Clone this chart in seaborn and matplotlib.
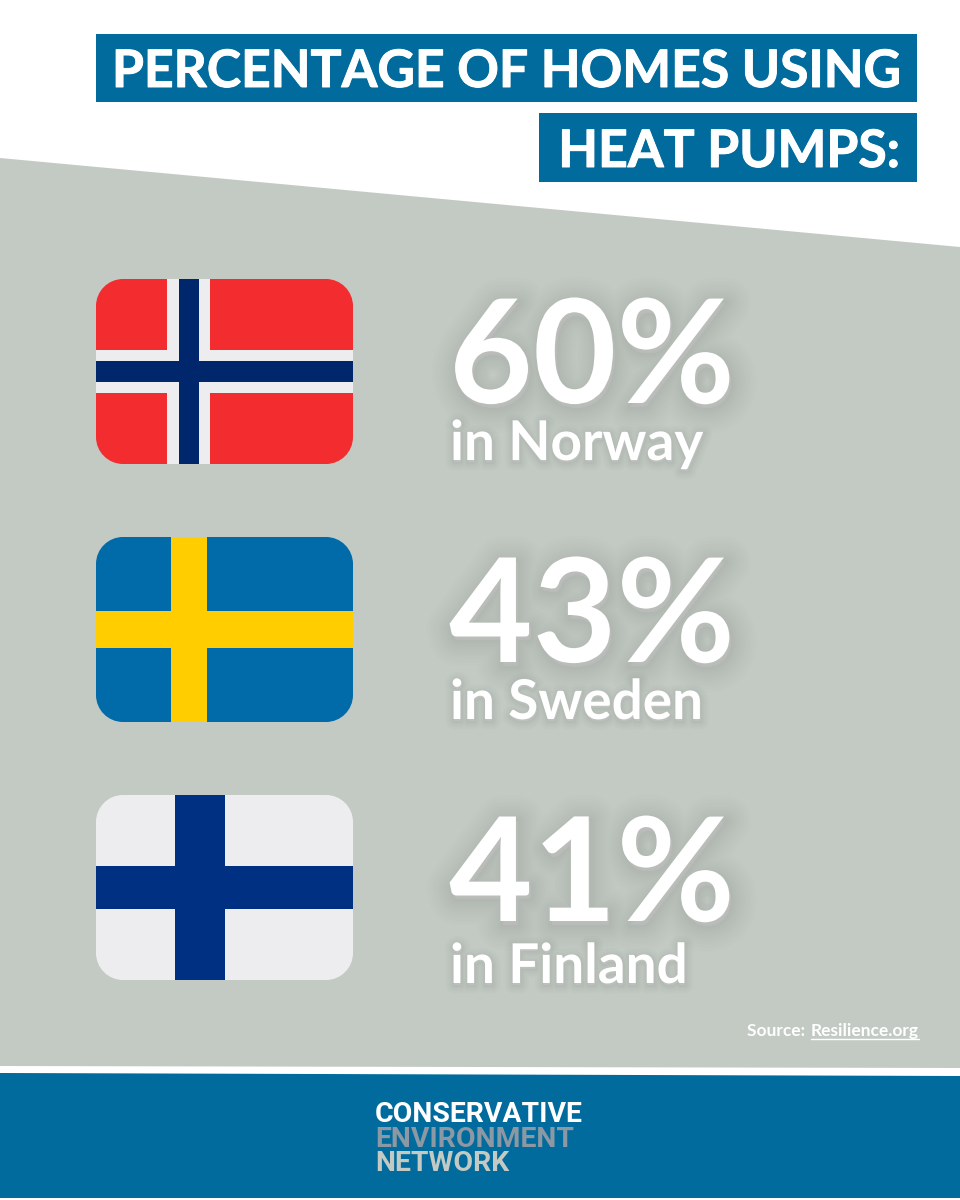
import matplotlib
matplotlib.use("Agg")
import matplotlib.pyplot as plt
import matplotlib.patheffects as pe
from matplotlib.patches import PathPatch, Polygon, Rectangle
from matplotlib.path import Path
import seaborn as sns

countries = ["Norway", "Sweden", "Finland"]
percentages = [60, 43, 41]
title_lines = ["PERCENTAGE OF HOMES USING", "HEAT PUMPS:"]
logo_lines = ["CONSERVATIVE", "ENVIRONMENT", "NETWORK"]

BLUE = "#006B9C"
GREY = "#C3CAC4"

sns.set_theme(style="white")
plt.rcParams["font.family"] = ["Lato", "DejaVu Sans"]

fig = plt.figure(figsize=(9.6, 12), dpi=100, facecolor="white")
ax = fig.add_axes([0, 0, 1, 1])
ax.set_xlim(0, 960)
ax.set_ylim(1200, 0)
ax.axis("off")

# background shapes
ax.add_patch(Polygon([(0, 158), (960, 247), (960, 1068), (0, 1066)], fc=GREY, ec="none"))
ax.add_patch(Polygon([(0, 1073), (960, 1076), (960, 1198), (0, 1198)], fc=BLUE, ec="none"))

# title
title_fx = [pe.withStroke(linewidth=0.7, foreground="white")]
ax.add_patch(Rectangle((96, 34), 821, 68, fc=BLUE, ec="none"))
ax.add_patch(Rectangle((539, 113), 378, 69, fc=BLUE, ec="none"))
ax.text(506, 68, title_lines[0], color="white", fontsize=37.2, fontweight="bold", ha="center",
        va="center_baseline", path_effects=title_fx)
ax.text(729, 148, title_lines[1], color="white", fontsize=37.2, fontweight="bold", ha="center",
        va="center_baseline", path_effects=title_fx)


def rounded(x0, y0, w, h, r):
    k = r * 0.4477
    x1, y1 = x0 + w, y0 + h
    verts = [(x0 + r, y0), (x1 - r, y0),
             (x1 - k, y0), (x1, y0 + k), (x1, y0 + r), (x1, y1 - r),
             (x1, y1 - k), (x1 - k, y1), (x1 - r, y1), (x0 + r, y1),
             (x0 + k, y1), (x0, y1 - k), (x0, y1 - r), (x0, y0 + r),
             (x0, y0 + k), (x0 + k, y0), (x0 + r, y0), (x0 + r, y0)]
    codes = [Path.MOVETO, Path.LINETO,
             Path.CURVE4, Path.CURVE4, Path.CURVE4, Path.LINETO,
             Path.CURVE4, Path.CURVE4, Path.CURVE4, Path.LINETO,
             Path.CURVE4, Path.CURVE4, Path.CURVE4, Path.LINETO,
             Path.CURVE4, Path.CURVE4, Path.CURVE4, Path.CLOSEPOLY]
    return Path(verts, codes)


def flag(top, field, vspans, hspans):
    box = PathPatch(rounded(96, top, 257, 185, 27), fc=field, ec="none")
    ax.add_patch(box)
    for (y0, y1, c) in hspans:
        r = Rectangle((96, top + y0), 257, y1 - y0, fc=c, ec="none")
        ax.add_patch(r)
        r.set_clip_path(box)
    for (x0, x1, c) in vspans:
        r = Rectangle((x0, top), x1 - x0, 185, fc=c, ec="none")
        ax.add_patch(r)
        r.set_clip_path(box)


WHITE_F = "#EDEDEF"
NAVY = "#00266B"
# Norway: white cross first, then navy cross on top
flag(279, "#F32D2F",
     [(167, 210, WHITE_F)],
     [(71, 114, WHITE_F)])
for rect in [Rectangle((96, 361), 257, 21, fc=NAVY, ec="none"),
             Rectangle((179, 279), 20, 185, fc=NAVY, ec="none")]:
    ax.add_patch(rect)
flag(537, "#006BA8", [(171, 207, "#FFCD00")], [(74, 111, "#FFCD00")])
flag(795, WHITE_F, [(175, 225, "#003082")], [(71, 114, "#003082")])

# soft, slightly lowered shadow made of layered translucent strokes
shadow_big = [pe.Stroke(linewidth=w, foreground="#6F7A74", alpha=0.017, offset=(1.5, -3))
              for w in (36, 31, 26, 21, 17, 13, 9, 6, 3)] + [pe.Normal()]
shadow_small = [pe.Stroke(linewidth=w, foreground="#6F7A74", alpha=0.03, offset=(0.5, -1.5))
                for w in (12, 9, 6, 4, 2)] + [pe.Normal()]

big_baselines = [403, 662, 921]
small_baselines = [460, 719, 983]
for c, p, by, sy in zip(countries, percentages, big_baselines, small_baselines):
    ax.text(449, by, f"{p}%", color="white", fontsize=104, fontweight="bold",
            ha="left", va="baseline", path_effects=shadow_big)
    ax.text(450, sy, f"in {c}", color="white", fontsize=39.5, fontweight="bold",
            ha="left", va="baseline", path_effects=shadow_small)

# source
ax.text(747, 1036, "Source: ", color="white", fontsize=12.5, fontweight="bold", ha="left", va="baseline")
ax.text(811, 1036, "Resilience.org", color="white", fontsize=12.5, fontweight="bold", ha="left", va="baseline")
ax.plot([811, 919], [1039, 1039], color="white", lw=1)

# logo
for s, c, y in zip(logo_lines, ["white", "#8C98A3", "#C3CAC4"], [1122, 1147, 1171]):
    ax.text(375, y, s, color=c, fontsize=20.4, fontweight="bold", ha="left", va="baseline", family="Roboto")

fig.savefig("out.png", dpi=100, facecolor="white")
